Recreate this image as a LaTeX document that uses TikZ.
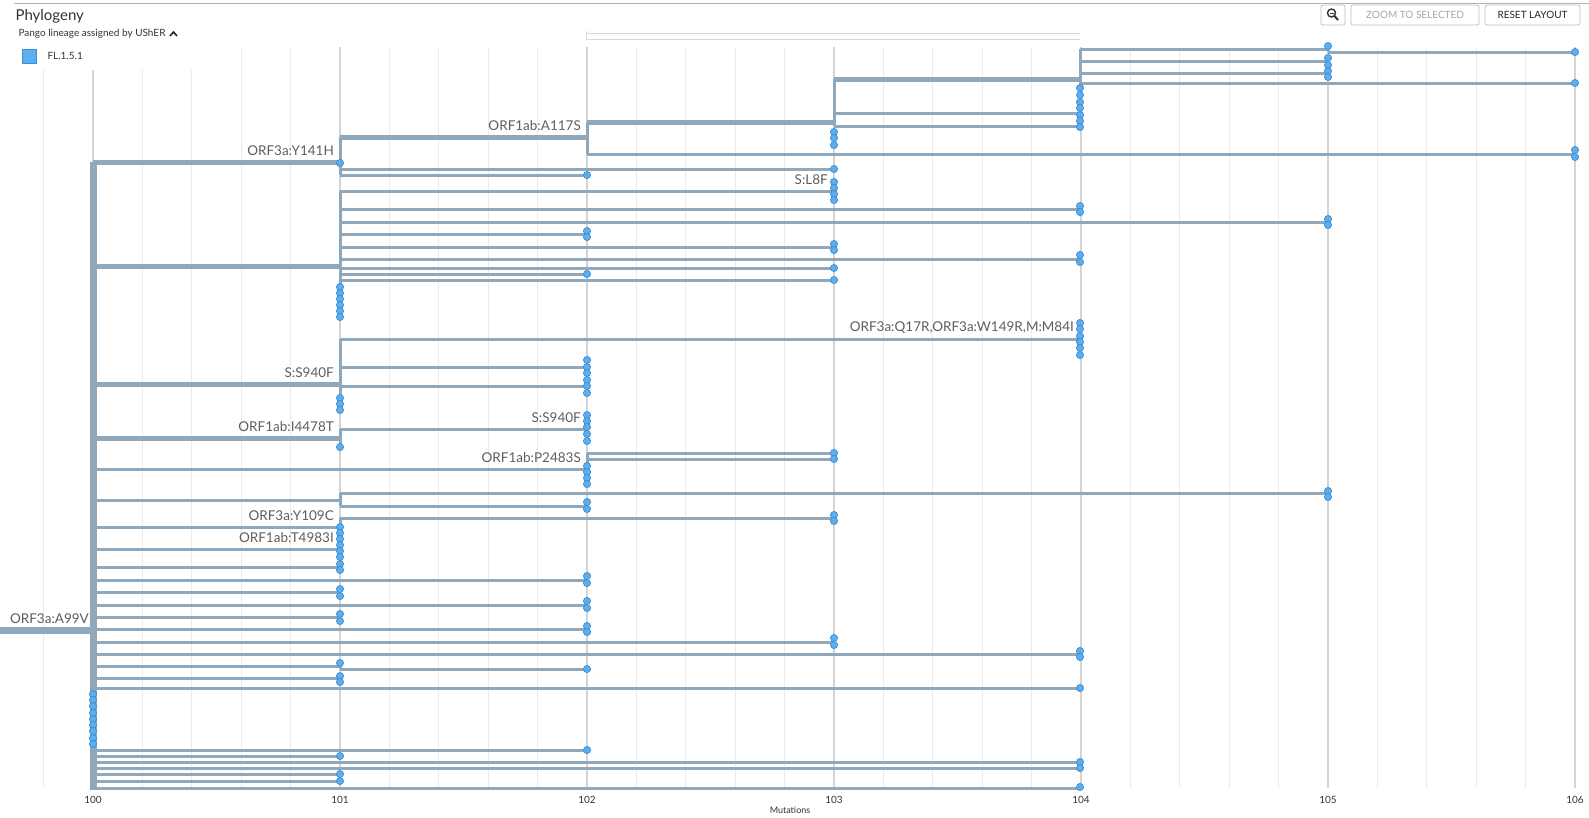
\documentclass[tikz,border=0pt]{standalone}
\usepackage{fontspec}
\setmainfont{Lato}
\begin{document}
\begin{tikzpicture}[x=1pt,y=-1pt,
  br/.style={draw=brc,line width=3pt},
  tk/.style={draw=brc,line width=5pt},
  dot/.style={fill=dotc,draw=dotd,line width=0.7pt},
  lab/.style={text=labc,font=\fontsize{13.5}{14}\selectfont,anchor=east,inner sep=1pt},
  ax/.style={text=black!80,font=\fontsize{10}{12}\selectfont},
  btn/.style={draw=black!25,rounded corners=2pt,line width=0.8pt}]
\definecolor{brc}{HTML}{8FA8BC}
\definecolor{dotc}{HTML}{5DAEEE}
\definecolor{dotd}{HTML}{3F8ED0}
\definecolor{labc}{HTML}{5E5E5E}
\newcommand\dts[2]{\foreach \yy in {#2}{\draw[dot] (#1,\yy) circle (3.6);}}
\newcommand\hb[4][br]{\draw[#1] (#2,#3) -- (#4,#3);}
\newcommand\vb[3]{\draw[br] (#1,#2) -- (#1,#3);}
\useasboundingbox (0,0) rectangle (1589,817);
\clip (0,0) rectangle (1589,817);
% grid
\foreach \i in {-1,...,30}{\draw[black!8,line width=0.8pt] ({93+49.4*\i},47) -- ({93+49.4*\i},788);}
\foreach \i in {0,...,6}{\draw[black!17,line width=1.2pt] ({93+247*\i},47) -- ({93+247*\i},788);
  \node[ax] at ({93+247*\i},800) {\pgfmathparse{int(100+\i)}\pgfmathresult};}
\node[ax,anchor=north,font=\fontsize{9}{10}\selectfont] at (790,803) {Mutations};
% header
\fill[white] (10,40) rectangle (240,70);
\draw[black!30,line width=1pt] (14,3) -- (1589,3);
\node[anchor=west,font=\fontsize{15}{16}\selectfont,text=black!80] at (12,16) {Phylogeny};
\node[anchor=west,font=\fontsize{10}{12}\selectfont,text=black!80] (pg) at (15,34) {Pango lineage assigned by UShER};
\draw[black!85,line width=1.6pt] ([xshift=1pt,yshift=-2pt]pg.east) -- ++(3.5,-4) -- ++(3.5,4);
\draw[fill=dotc,draw=dotd,line width=1pt] (22,49) rectangle (36,63);
\node[anchor=west,font=\fontsize{10}{12}\selectfont,text=black!80] at (44,56) {FL.1.5.1};
\draw[black!15,line width=1pt] (586,33) -- (1080,33) (586,39) -- (1080,39) (586,31) -- (586,40);
\draw[btn] (1321,5) rectangle (1345,25);
\draw[black!80,line width=1.4pt] (1331.5,13) circle (4);
\draw[black!80,line width=2pt] (1334.5,16) -- (1338,20);
\draw[black!80,line width=1pt] (1329.5,13) -- (1333.5,13);
\draw[btn] (1351,5) rectangle (1479,25);
\node[text=black!35,font=\fontsize{10}{12}\selectfont] at (1415,15) {ZOOM TO SELECTED};
\draw[btn] (1485,5) rectangle (1580,25);
\node[text=black!85,font=\fontsize{10}{12}\selectfont] at (1532.5,15) {RESET LAYOUT};
% root
\draw[draw=brc,line width=7pt] (93,162) -- (93,790);
\draw[draw=brc,line width=7pt] (0,630) -- (93,630);
\node[lab] at (90,619) {ORF3a:A99V};
% cluster 1
\hb[tk]{93}{162}{340}\node[lab] at (335,151) {ORF3a:Y141H};
\vb{340}{137}{175}
\hb[tk]{340}{137}{587}\node[lab] at (582,126) {ORF1ab:A117S};
\hb{340}{169}{834}\hb{340}{175}{587}
\vb{587}{122}{154}
\hb[tk]{587}{122}{834}\hb{587}{154}{1575}
\vb{834}{79}{126}
\hb[tk]{834}{79}{1080}\hb{834}{113}{1080}\hb{834}{126}{1080}
\vb{1080}{49}{127}
\hb{1080}{49}{1328}\hb{1080}{61}{1328}\hb{1080}{73}{1328}\hb{1080}{83}{1575}
\vb{1328}{46}{52}\hb{1328}{52}{1575}
% cluster 2
\hb[tk]{93}{266}{340}
\vb{340}{191}{317}
\hb{340}{191}{834}\node[lab] at (829,180) {S:L8F};
\hb{340}{209}{1080}\hb{340}{222}{1328}\hb{340}{234}{587}\hb{340}{247}{834}
\hb{340}{259}{1080}\hb{340}{268}{834}\hb{340}{274}{587}\hb{340}{280}{834}
% cluster 3
\hb[tk]{93}{384}{340}\node[lab] at (335,373) {S:S940F};
\vb{340}{339}{410}
\hb{340}{339}{1080}\node[lab] at (1075,328) {ORF3a:Q17R,ORF3a:W149R,M:M84I};
\hb{340}{367}{587}\hb{340}{386}{587}
% I4478T
\hb[tk]{93}{438}{340}\node[lab] at (335,427) {ORF1ab:I4478T};
\vb{340}{429}{447}
\hb{340}{429}{587}\node[lab] at (582,418) {S:S940F};
% P2483S
\hb{93}{469}{587}\node[lab] at (582,458) {ORF1ab:P2483S};
\vb{587}{453}{484}
\hb{587}{453}{834}\hb{587}{459}{834}
% others
\hb{93}{500}{340}\vb{340}{493}{506}
\hb{340}{493}{1328}\hb{340}{506}{587}
\hb{93}{527}{340}\vb{340}{518}{570}
\hb{340}{518}{834}\node[lab] at (335,516) {ORF3a:Y109C};
\hb{93}{549}{340}\node[lab] at (335,538) {ORF1ab:T4983I};
\hb{93}{567}{340}
\hb{93}{580}{587}\hb{93}{592}{340}\hb{93}{605}{587}\hb{93}{617}{340}
\hb{93}{629}{587}\hb{93}{642}{834}\hb{93}{654}{1080}
\hb{93}{666}{340}\vb{340}{663}{669}\hb{340}{669}{587}
\hb{93}{678}{340}\hb{93}{688}{1080}
\hb{93}{750}{587}\hb{93}{756}{340}\hb{93}{762}{1080}\hb{93}{768}{1080}
\hb{93}{774}{340}\hb{93}{781}{340}\hb{93}{788}{1080}
% dots
\dts{1328}{46,58,65,71,77}
\dts{1575}{52,83,150,157}
\dts{1080}{88,95,102,108,115,121,127}
\dts{834}{132,138,145,169}
\dts{587}{175}
\dts{340}{163}
\dts{340}{287,293,299,305,311,317}
\dts{834}{182,188,194,200,244,250,268,280}
\dts{1080}{206,212,255,262}
\dts{1328}{219,225}
\dts{587}{231,237,274}
\dts{1080}{323,329,336,342,348,355}
\dts{587}{360,367,373,380,386,393}
\dts{340}{398,404,410}
\dts{587}{415,421,427,434,441}
\dts{340}{447}
\dts{834}{453,459}
\dts{587}{466,472,478,484}
\dts{1328}{491,497}
\dts{587}{502,509}
\dts{834}{515,521}
\dts{340}{527,533,539,545,551,557,564,570}
\dts{587}{576,583,601,608,626,632,669,750}
\dts{340}{589,596,614,621,663,676,682,756,774,781}
\dts{834}{638,645}
\dts{1080}{651,657,688,762,768,787}
\dts{93}{694,700,706,713,719,725,731,738,744}
\end{tikzpicture}
\end{document}
